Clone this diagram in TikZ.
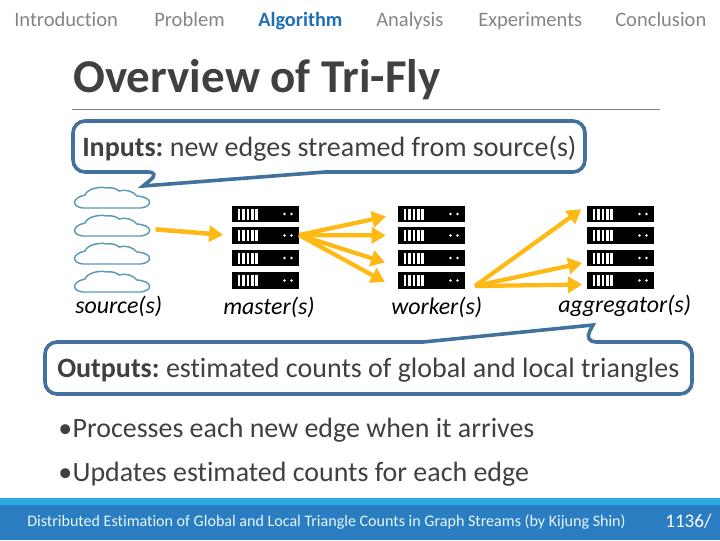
\documentclass[tikz,border=0pt]{standalone}
\usepackage{fontspec}
\setmainfont{Carlito}[Ligatures=NoCommon]
\usetikzlibrary{arrows.meta}
\definecolor{inkgray}{HTML}{404040}
\definecolor{navgray}{HTML}{858585}
\definecolor{navblue}{HTML}{1F6FB5}
\definecolor{calloutblue}{HTML}{41719C}
\definecolor{cloudblue}{HTML}{5B9BB5}
\definecolor{flowyellow}{HTML}{FFB914}
\definecolor{bandlight}{HTML}{29ABE2}
\definecolor{banddark}{HTML}{2A7DC1}
\tikzset{
    txt/.style = {inner sep=0pt,anchor=base west,text=inkgray},
    navitem/.style = {txt,text=navgray,font=\fontsize{15.4}{17}\selectfont},
    navcur/.style = {txt,text=navblue,font=\bfseries\fontsize{15.2}{17}\selectfont},
    titletxt/.style = {txt,font=\bfseries\fontsize{35.3}{38}\selectfont},
    boxtxt/.style = {txt,font=\fontsize{21}{24}\selectfont},
    itemtxt/.style = {txt,font=\fontsize{20.95}{24}\selectfont},
    roletxt/.style = {txt,text=black,font=\itshape\fontsize{17.9}{20}\selectfont},
    foottxt/.style = {txt,text=white!90!cyan,font=\fontsize{12.05}{14}\selectfont},
    pagetxt/.style = {txt,text=white,font=\fontsize{14.4}{16}\selectfont},
    slab/.style = {rectangle,fill=black,inner sep=0pt,minimum width=50.25pt,minimum height=12.4pt},
    callout/.style = {draw=calloutblue,line width=2.7pt,fill=white},
    flow/.style = {-{Triangle[width=12pt,length=10.5pt]},line width=3.2pt,draw=flowyellow},
    cloudline/.style = {draw=cloudblue,line width=1.1pt,fill=white},
    cloudpic/.pic = {
        \draw[cloudline] (-30,14) .. controls (-41,13) and (-42,4) .. (-28,1)
            .. controls (-26,-5) and (-14,-8) .. (-6,-6)
            .. controls (-1,-7) and (4,-5) .. (6,-3)
            .. controls (12,-5) and (20,-3) .. (24,2)
            .. controls (39,3) and (41,12) .. (28,14) -- cycle;
        \coordinate (-e) at (38,7);
    },
}
% one server drawer of a rack
\newcommand{\drawer}[3]{
    \node[slab] at (#2,#3) (#1) {};
    \foreach \bx in {-26.5,-22,-17.5,-13,-9}
        \fill[white] (#2+\bx-1.2,#3-5.5) rectangle (#2+\bx+1.2,#3+5.5);
    \foreach \dx in {19,26}
        \fill[white] (#2+\dx,#3) circle (1pt);
}
\begin{document}
\begin{tikzpicture}[x=0.75pt,y=-0.75pt]
\useasboundingbox (0,0) rectangle (720,540);
% header
\node[navitem] at (14,26) (nintro) {Introduction};
\node[navitem] at (154,26) (nprob) {Problem};
\node[navcur] at (258,26) (nalgo) {Algorithm};
\node[navitem] at (376,26) (nana) {Analysis};
\node[navitem] at (478,26) (nexp) {Experiments};
\node[navitem] at (615,26) (ncon) {Conclusion};
\node[titletxt] at (73,92) (title) {Overview of Tri-Fly};
\draw[gray,line width=0.5pt] (72,109) -- (660,109);
% callouts
\draw[callout,rounded corners=9pt] (73,146) -- (73,172) -- (160,172) [sharp corners] -- (143,186) -- (325,172)
    [rounded corners=9pt] -- (585,172) -- (585,121) -- (73,121) -- cycle;
\node[boxtxt] at (82,156) (inbox) {\textbf{Inputs:}\kern-1.5pt{} new edges streamed from source(s)};
\draw[callout,rounded corners=9pt] (45,368) -- (45,394) -- (692,394) -- (692,342) -- (584,342) [sharp corners] -- (593,325) -- (423,342)
    [rounded corners=9pt] -- (45,342) -- cycle;
\node[boxtxt] at (57,377) (outbox) {\textbf{Outputs:}\kern-1.5pt{} estimated counts of global and local triangles};
% sources
\pic at (113,194) {cloudpic};
\pic (c2) at (113,222) {cloudpic};
\pic at (113,250) {cloudpic};
\pic at (113,278) {cloudpic};
% racks
\foreach \n/\y in {1/214,2/235.5,3/258,4/280.5}{
    \drawer{m\n}{265.5}{\y}
    \drawer{w\n}{431.5}{\y}
    \drawer{a\n}{620.5}{\y}
}
\coordinate (mout) at (299,235);
\coordinate (wout) at (475,286);
\draw[flow,line width=3.4pt,shorten <=3.5pt,shorten >=6.5pt] (c2-e) -- (m2.west);
\draw[flow,shorten >=9pt] (mout) -- (w1.west);
\draw[flow,shorten >=9pt] (mout) -- (w2.west);
\draw[flow,shorten >=10pt] (mout) -- (w3.south west);
\draw[flow,shorten >=11pt] (mout) -- (w4.south west);
\draw[flow,shorten >=5pt] (wout) -- (a1.north west);
\draw[flow,shorten >=3.5pt] (wout) -- ([yshift=-3pt]a3.west);
\draw[flow,shorten >=3.5pt] (wout) -- ([yshift=-3pt]a4.west);
\node[roletxt] at (75,313) (lsrc) {source(s)};
\node[roletxt] at (223,314) (lmas) {master(s)};
\node[roletxt] at (391,314) (lwor) {worker(s)};
\node[roletxt] at (558,312) (lagg) {aggregator(s)};
% bullets
\node[itemtxt] at (58,437) (bone) {•\kern0.3pt{}Processes each new edge when it arrives};
\node[itemtxt] at (58,481) (btwo) {•\kern0.3pt{}Updates estimated counts for each edge};
% footer
\fill[banddark] (0,505) rectangle (720,540);
\fill[bandlight] (0,498) rectangle (720,505);
\node[foottxt] at (27,526) (foot) {Distributed Estimation of Global and Local Triangle Counts in Graph Streams (by Kijung Shin)};
\node[pagetxt] at (665,527) (page) {1136/};
\end{tikzpicture}
\end{document}
